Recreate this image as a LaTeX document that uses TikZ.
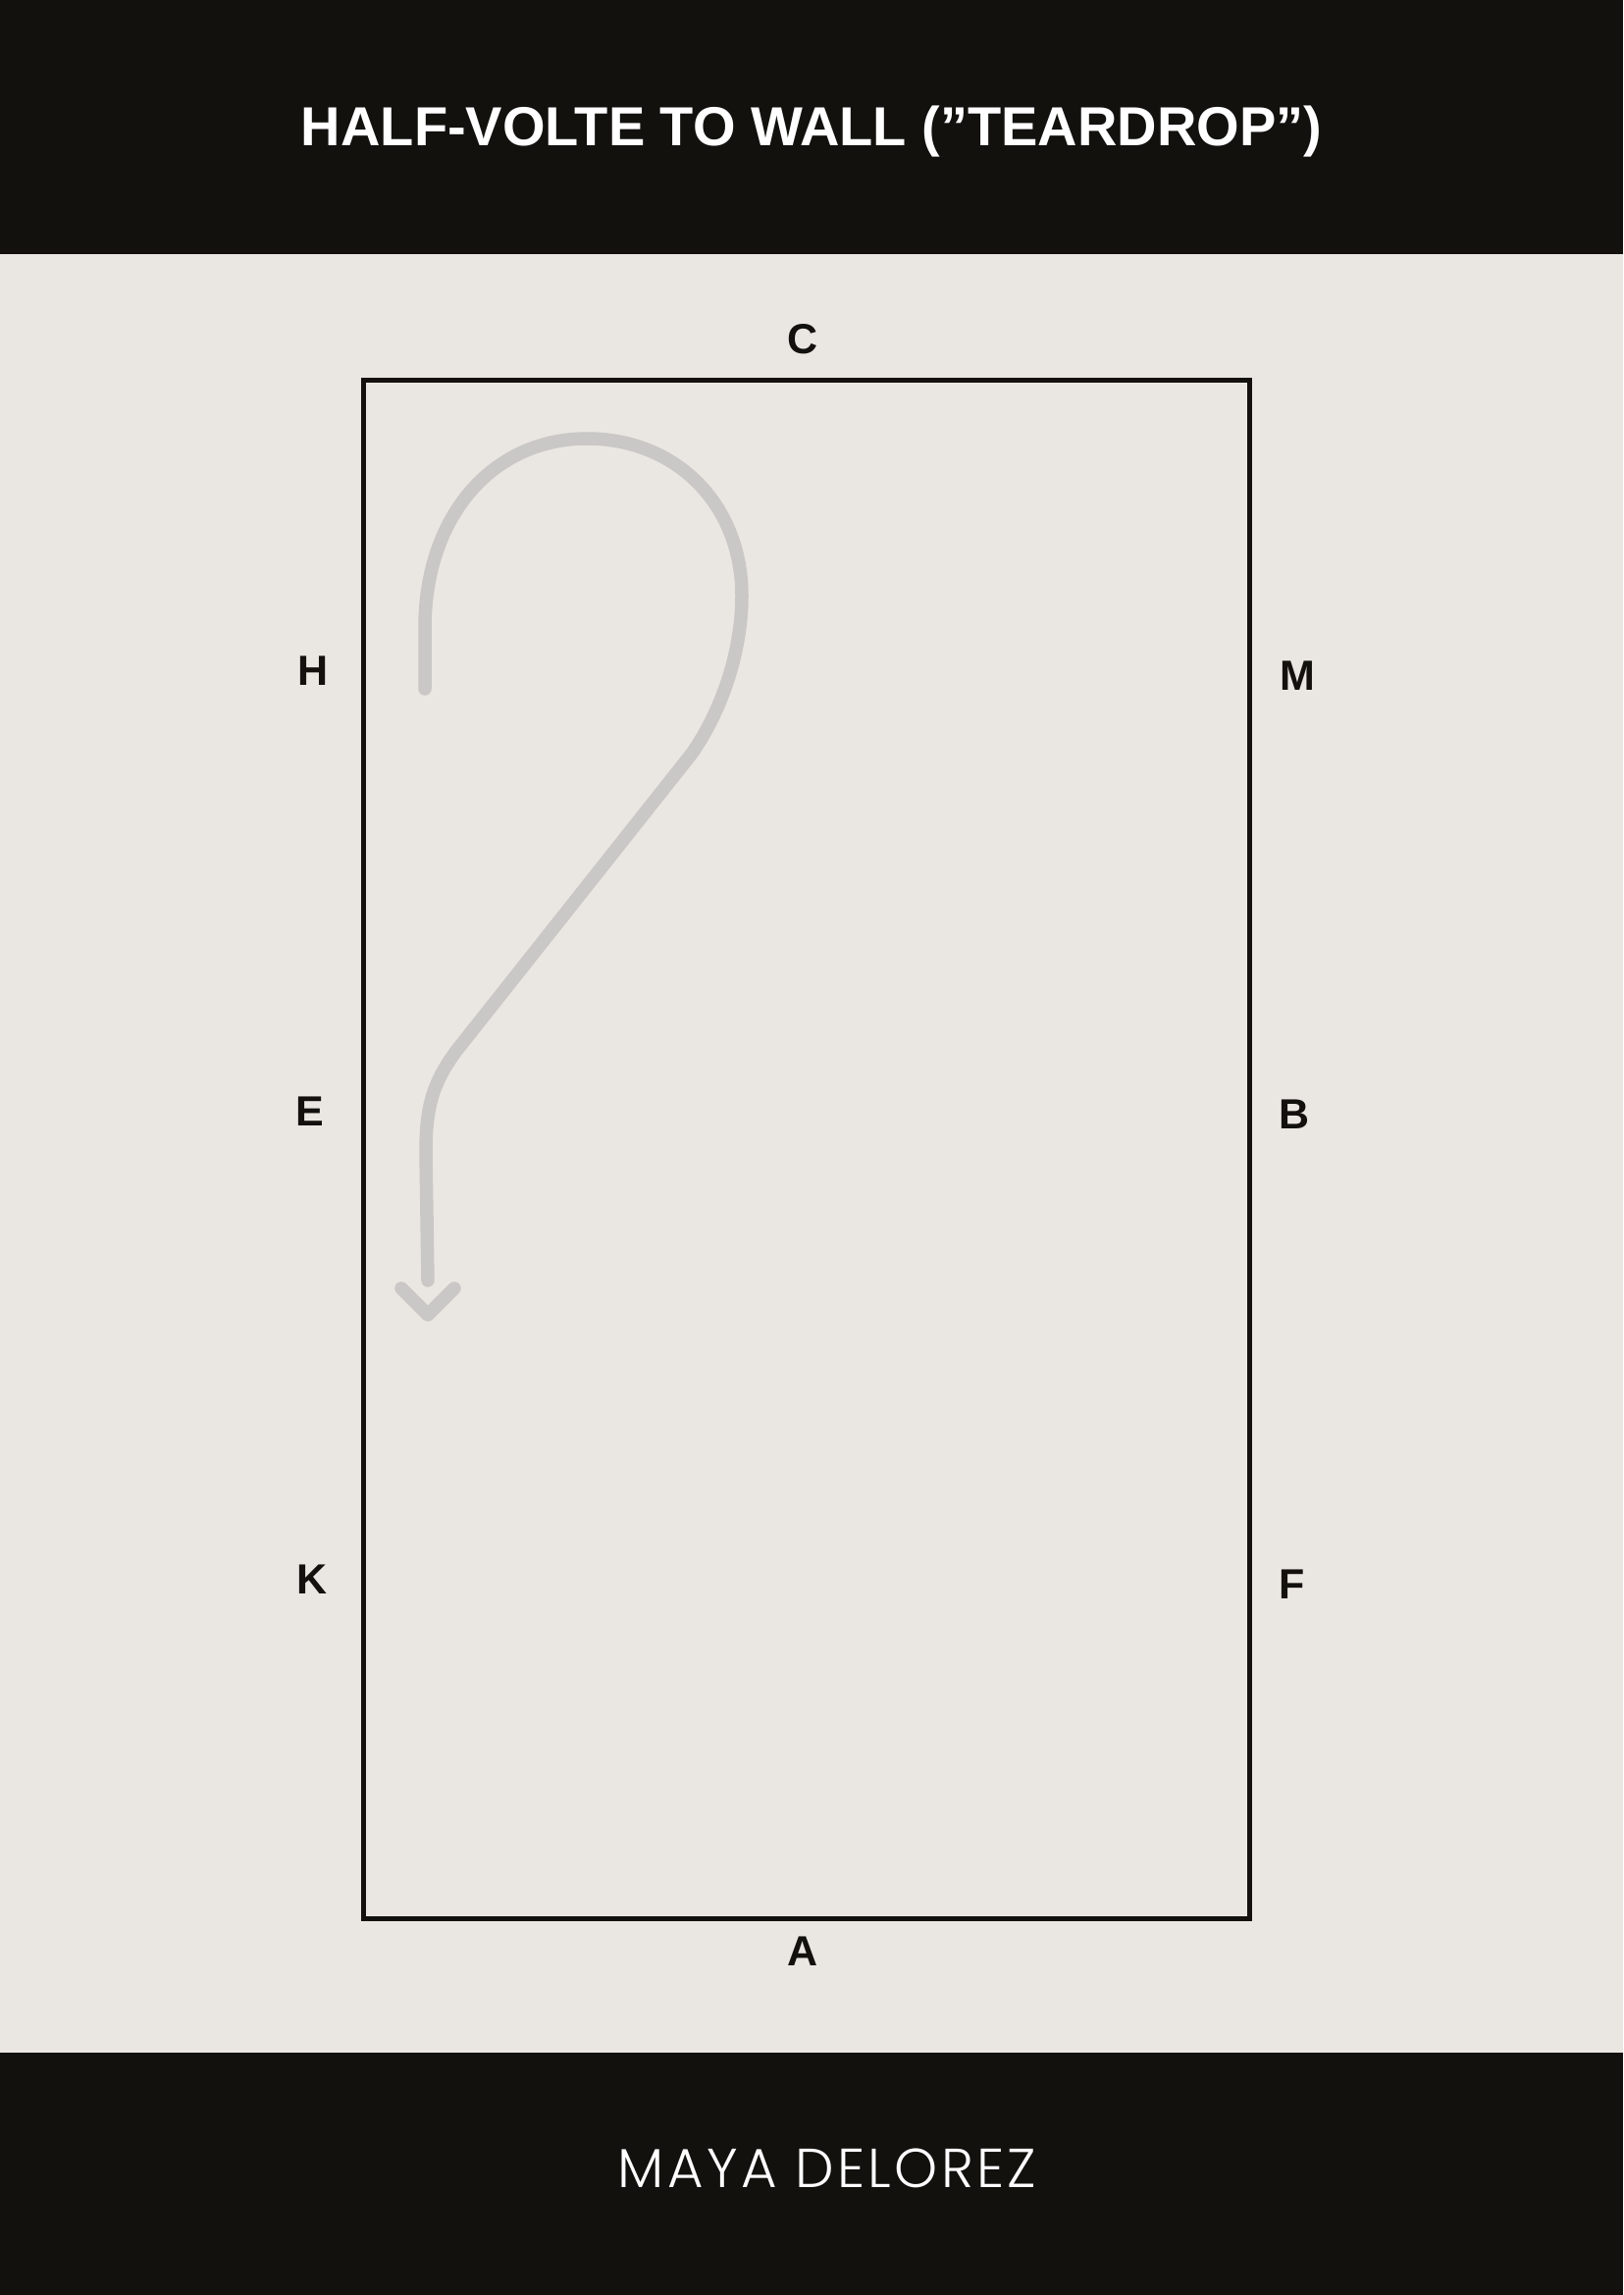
\documentclass[tikz,border=0pt]{standalone}
\usepackage{fontspec}
\setmainfont{Liberation Sans}
\newfontfamily\footfont[LetterSpace=6]{Poppins Light}
\usepackage{xcolor}
\usetikzlibrary{positioning}

\definecolor{paper}{HTML}{EAE7E2}
\definecolor{ink}{HTML}{12110E}
\definecolor{track}{HTML}{C9C8C6}

\begin{document}
\begin{tikzpicture}[
    x=1pt, y=-1pt,
    band/.style={fill=ink, draw=none},
    arena/.style={draw=ink, line width=5pt},
    marker/.style={inner sep=0pt, text=ink, font=\fontsize{43}{43}\selectfont\bfseries},
    route/.style={draw=track, line width=13.5pt, line cap=round, line join=round}
]
\useasboundingbox (0,0) rectangle (1654,2339);

% Background and bands
\fill[paper] (0,0) rectangle (1654,2339);
\path[band] (0,0) rectangle (1654,259);
\path[band] (0,2092) rectangle (1654,2339);

\node[anchor=base, inner sep=0pt, text=white, font=\fontsize{56}{56}\selectfont\bfseries] (title) at (827,149) {HALF-VOLTE TO WALL (”TEARDROP”)};
\node[anchor=base, inner sep=0pt, text=white, font=\footfont\fontsize{56}{56}\selectfont] (rider) at (843,2229) {MAYA DELOREZ};

% Arena
\draw[arena] (370,387) rectangle (1273,1955);

% Letters
\node[marker] (c) at (818,346) {C};
\node[marker] (a) at (818,1989) {A};
\node[marker] (h) at (319,684) {H};
\node[marker] (e) at (316,1133) {E};
\node[marker] (k) at (318,1610) {K};
\node[marker] (m) at (1322,689) {M};
\node[marker] (b) at (1319,1136) {B};
\node[marker] (f) at (1317,1615) {F};

% Teardrop route
\coordinate (start) at (433,702);
\coordinate (tip) at (436,1340);
\draw[route] (start) -- (433,640) .. controls (433,525) and (503,447) .. (598,447)
    .. controls (690,447) and (756,515) .. (756,607)
    .. controls (756,665) and (735,725) .. (705,768)
    -- (465,1071) .. controls (440,1105) and (434,1130) .. (434,1175)
    -- (436,1305);
\draw[route] (409,1313) -- (tip) -- (463,1313);

\end{tikzpicture}
\end{document}
